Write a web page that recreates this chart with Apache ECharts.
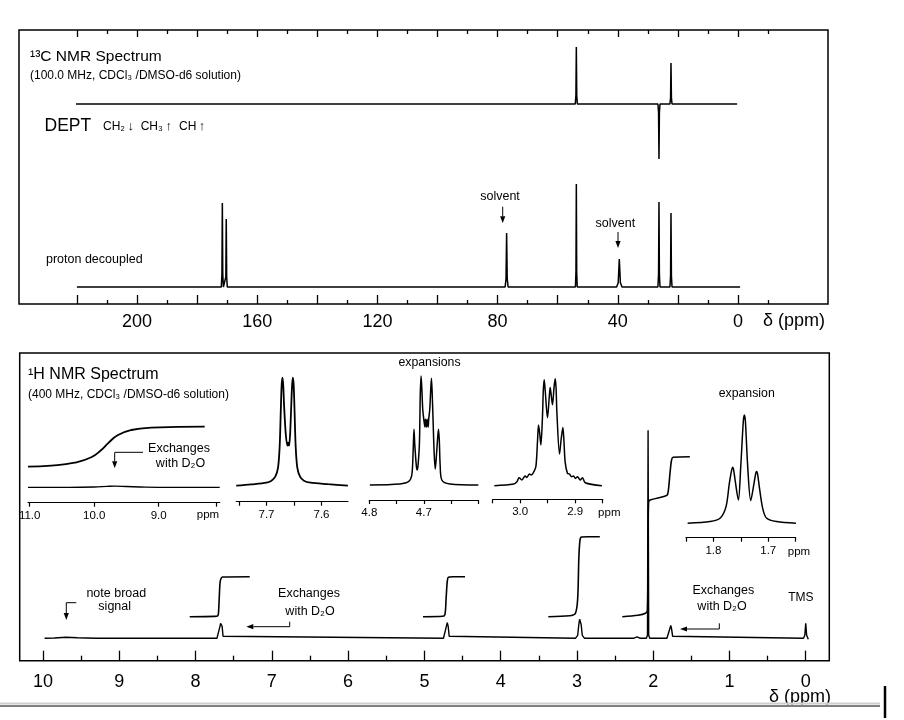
<!DOCTYPE html>
<html><head><meta charset="utf-8">
<script src="https://cdn.jsdelivr.net/npm/echarts@6/dist/echarts.min.js"></script>
<style>html,body{margin:0;padding:0;background:#fff}#c{width:904px;height:720px}</style>
</head><body><div id="c"></div>
<script>
// ---------------- 13C data ----------------
const c13MajorTicks = [0,20,40,60,80,100,120,140,160,180,200,220];
const c13MinorTicks = [-10,10,30,50,70,90,110,130,150,170,190,210];
const c13TickLabels = [200,160,120,80,40,0];
// [ppm, intensity, half-width(ppm)]
const deptPeaks = [[53.8,57,0.35],[26.3,-55,0.35],[22.3,41,0.35]];
const decoupledPeaks = [[171.6,84,0.35],[170.3,68,0.35],[77.0,54,0.5],[53.8,103,0.3],[39.5,28,0.9],[26.3,85,0.35],[22.3,74,0.35]];
const deptRange = [220.3, 0.3];
const decoupledRange = [220, -0.7];

// ---------------- 1H data ----------------
const h1MajorTicks = [0,1,2,3,4,5,6,7,8,9,10];
const h1MinorTicks = [0.5,1.5,2.5,3.5,4.5,5.5,6.5,7.5,8.5,9.5];
const h1Spectrum = [
  [9.98,0],[9.85,0.3],[9.7,1],[9.55,0.6],[9.3,0],
  [7.72,0],[7.695,2],[7.68,12],[7.672,15],[7.662,15],[7.652,12],[7.64,2],[7.615,0],
  [4.75,0],[4.725,2],[4.712,12],[4.70,15.6],[4.688,12],[4.675,2],[4.65,0],
  [3.02,0],[2.99,3],[2.975,14],[2.965,19],[2.955,19],[2.945,14],[2.93,3],[2.90,0],
  [2.26,0],[2.21,1.5],[2.17,0],
  [2.09,0],[2.075,3],[2.067,208],[2.059,3],[2.045,0],
  [1.82,0],[1.795,2],[1.78,10],[1.77,13],[1.76,10],[1.745,2],[1.72,0],
  [0.03,0],[0.012,3],[0.0,15],[-0.012,3],[-0.034,-1]
];
const h1Integral1 = [[8.077,21.6],[7.75,21.9],[7.71,22.5],[7.70,25],[7.69,40],[7.68,55],[7.67,59],[7.65,61.3],[7.29,61.6]];
const h1Integral2 = [[5.018,21.6],[4.76,22],[4.73,24],[4.715,40],[4.70,57],[4.685,61],[4.62,61.5],[4.467,61.6]];
const h1Integral3 = [[3.375,21.6],[3.1,22.5],[3.02,25],[2.99,40],[2.975,80],[2.96,98],[2.94,101.3],[2.85,101.6],[2.70,101.6]];
const h1Integral4 = [[2.405,21.6],[2.2,23],[2.1,25],[2.075,28],[2.067,100],[2.06,136],[2.04,138.3],[1.85,142],[1.81,144],[1.78,165],[1.76,178],[1.74,181],[1.52,181.6]];

// expansions
const inset1Ticks = [11,10,9,8.1];
const inset1Labels = [11,10,9];
const inset1Spectrum = [[11.026,0],[10.4,0],[10.0,0.3],[9.8,0.9],[9.68,1.2],[9.5,0.8],[9.2,0.2],[8.8,0],[8.054,0]];
const inset1Integral = [[11.026,20.6],[10.665,21.6],[10.302,24.6],[10.045,30],[9.89,37.3],[9.786,44],[9.631,52.3],[9.425,57.3],[9.115,59.6],[8.287,60.6]];

const inset2Ticks = [7.75,7.7,7.65,7.6];
const inset2Labels = [7.7,7.6];
const inset2Spectrum = [[7.755,0],[7.728,1.3],[7.70,3],[7.691,5],[7.684,9],[7.679,18],[7.676,40],[7.674,75],[7.6725,100],[7.671,108],[7.6695,100],[7.668,80],[7.665,52],[7.662,40],[7.6605,43],[7.659,40],[7.657,52],[7.655,80],[7.6535,100],[7.652,108],[7.6505,100],[7.649,75],[7.647,40],[7.644,18],[7.639,9],[7.632,5],[7.62,3],[7.588,1.5],[7.552,0]];

const inset3Ticks = [4.8,4.75,4.7,4.65,4.6];
const inset3Labels = [4.8,4.7];
const inset3Spectrum = [[4.799,0],[4.744,1],[4.728,3.3],[4.722,10],[4.7195,35],[4.718,55.7],[4.7165,40],[4.7135,18],[4.712,15],[4.7105,20],[4.708,42],[4.7065,90],[4.705,109],[4.7035,95],[4.702,76],[4.700,65.7],[4.698,58],[4.697,65.7],[4.695,58],[4.694,65.7],[4.692,58],[4.691,65.7],[4.689,76],[4.6875,93],[4.686,106.7],[4.6845,90],[4.683,65],[4.681,32],[4.679,16],[4.677,28],[4.6745,48],[4.673,55.7],[4.6715,44],[4.670,20],[4.667,5],[4.652,1],[4.600,0]];

const inset4Ticks = [3.05,3.0,2.95,2.9,2.85];
const inset4Labels = [3.0,2.9];
const inset4Spectrum = [[3.047,0],[3.012,1.7],[3.006,4],[3.002,8],[2.997,5.7],[2.991,9.7],[2.988,8.3],[2.983,11.7],[2.980,10.7],[2.976,13],[2.9715,19],[2.9685,45],[2.9667,60.7],[2.9645,52],[2.9624,40.7],[2.9595,69],[2.958,95],[2.9564,106],[2.9545,95],[2.9504,68],[2.947,90],[2.9455,98.3],[2.9435,90],[2.9413,81],[2.9385,98],[2.9364,107],[2.9348,98],[2.9333,73.3],[2.9285,31.7],[2.9255,46.7],[2.9224,58.3],[2.9205,45],[2.9182,23.3],[2.914,12.3],[2.9104,11.7],[2.9067,9],[2.9031,9.7],[2.8995,7.3],[2.8958,9],[2.8909,5.7],[2.8867,8],[2.8818,3],[2.8515,0]];

const inset5Ticks = [1.85,1.8,1.75,1.7,1.65];
const inset5Labels = [1.8,1.7];
const inset5Spectrum = [[1.847,0],[1.806,1.7],[1.788,5],[1.777,16.7],[1.771,40],[1.7665,54],[1.7647,56],[1.763,53],[1.7605,43.3],[1.7545,23.3],[1.7502,56.7],[1.7455,102],[1.7436,108.3],[1.7417,102],[1.7375,56.7],[1.732,22.7],[1.726,40],[1.7228,50],[1.7211,51.7],[1.7194,49],[1.7164,36.7],[1.7102,15],[1.7029,5],[1.6847,1.7],[1.6496,0]];

// ---------------- helpers ----------------
const FONT = '"Liberation Sans", Arial, Helvetica, sans-serif';
function peaksToLine(range, peaks) {
  const pts = [[range[0], 0]];
  peaks.slice().sort((a,b)=>b[0]-a[0]).forEach(([p,h,w]) => {
    pts.push([p+w,0],[p+w*0.4,h*0.15],[p,h],[p-w*0.4,h*0.15],[p-w,0]);
  });
  pts.push([range[1],0]);
  return pts;
}
function hx(grid, min, max, extra) {
  return Object.assign({type:'value', gridIndex:grid, min, max, inverse:true, show:false, splitLine:{show:false}}, extra||{});
}
function hy(grid, min, max) {
  return {type:'value', gridIndex:grid, min, max, show:false, splitLine:{show:false}};
}
function tickAxis(grid, min, max, position, ticks, len, labels, labelOpt, extra) {
  return Object.assign({
    type:'value', gridIndex:grid, min, max, inverse:true, position,
    splitLine:{show:false},
    axisLine:{show:false},
    axisTick:{show:true, inside:true, length:len, customValues:ticks, lineStyle:{color:'#000', width:1.3}},
    axisLabel: labels ? Object.assign({show:true, customValues:labels, color:'#000', fontFamily:FONT}, labelOpt) : {show:false},
  }, extra||{});
}
function insetAxis(grid, min, max, offset, ticks, labels) {
  return {
    type:'value', gridIndex:grid, min, max, inverse:true, position:'bottom', offset,
    splitLine:{show:false},
    axisLine:{show:true, onZero:false, lineStyle:{color:'#000', width:1.2}},
    axisTick:{show:true, inside:false, length:4, customValues:ticks, lineStyle:{color:'#000', width:1.2}},
    axisLabel:{show:true, customValues:labels, color:'#000', fontFamily:FONT, fontSize:11.5, margin:7,
      formatter: v => v.toFixed(1)}
  };
}
function line(xi, yi, data, width, smooth) {
  return {type:'line', xAxisIndex:xi, yAxisIndex:yi, data, symbol:'none', showSymbol:false,
    smooth: smooth||false, clip:false, silent:true,
    lineStyle:{color:'#000', width:width||1.4}};
}
function txt(x, y, s, size, align, extra) {
  return {type:'text', x, y, silent:true, z:50, style:Object.assign({text:s, fontFamily:FONT, fontSize:size,
    fill:'#000', align:align||'left', verticalAlign:'middle'}, extra||{})};
}
function arrow(pts) {
  const n = pts.length, [x1,y1] = pts[n-2], [x2,y2] = pts[n-1];
  const d = Math.hypot(x2-x1,y2-y1), ux=(x2-x1)/d, uy=(y2-y1)/d, L=7, Wd=2.6;
  const bx = x2-ux*L, by = y2-uy*L;
  const shaft = pts.slice(0,n-1).concat([[bx,by]]);
  return [
    {type:'polyline', silent:true, z:50, shape:{points:shaft}, style:{stroke:'#000', lineWidth:1, fill:null}},
    {type:'polygon', silent:true, z:50, shape:{points:[[x2,y2],[bx-uy*Wd,by+ux*Wd],[bx+uy*Wd,by-ux*Wd]]}, style:{fill:'#000'}}
  ];
}

// ---------------- layout ----------------
const C_MIN = -29.95, C_MAX = 239.27;
const H_MIN = -0.309, H_MAX = 10.306;
const grids = [
  {left:19, top:30, width:809, height:274, show:true, borderColor:'#000', borderWidth:1.5, backgroundColor:'transparent'}, // 0 13C frame
  {left:19, top:44, width:809, height:120},   // 1 DEPT
  {left:19, top:177, width:809, height:110},  // 2 decoupled
  {left:19.7, top:353, width:809.6, height:307.7, show:true, borderColor:'#000', borderWidth:1.5, backgroundColor:'transparent'}, // 3 1H frame
  {left:19.7, top:388.3, width:809.6, height:250}, // 4 1H spectrum
  {left:28, top:357.3, width:191.7, height:130},   // 5 inset1
  {left:236.3, top:355.7, width:111.7, height:130},// 6 inset2
  {left:369.3, top:355, width:109, height:130},    // 7 inset3
  {left:492.7, top:355.7, width:110, height:130},  // 8 inset4
  {left:686, top:393.3, width:109.7, height:130}   // 9 inset5
];
const xAxes = [
  tickAxis(0, C_MIN, C_MAX, 'bottom', c13MajorTicks, 9, c13TickLabels, {fontSize:18, margin:9}), //0
  tickAxis(0, C_MIN, C_MAX, 'bottom', c13MinorTicks, 4, null),   //1
  tickAxis(0, C_MIN, C_MAX, 'top', c13MajorTicks, 7, null),      //2
  tickAxis(0, C_MIN, C_MAX, 'top', c13MinorTicks, 4, null),      //3
  hx(1, C_MIN, C_MAX), //4
  hx(2, C_MIN, C_MAX), //5
  tickAxis(3, H_MIN, H_MAX, 'bottom', h1MajorTicks, 10, h1MajorTicks, {fontSize:18, margin:12}), //6
  tickAxis(3, H_MIN, H_MAX, 'bottom', h1MinorTicks, 5, null), //7
  hx(4, H_MIN, H_MAX), //8
  insetAxis(5, 8.054, 11.026, 15.4, inset1Ticks, inset1Labels), //9
  insetAxis(6, 7.5518, 7.7549, 16, inset2Ticks, inset2Labels), //10
  insetAxis(7, 4.60, 4.80, 15, inset3Ticks, inset3Labels), //11
  insetAxis(8, 2.85, 3.05, 13.6, inset4Ticks, inset4Labels), //12
  insetAxis(9, 1.65, 1.85, 14.4, inset5Ticks, inset5Labels)  //13
];
const yAxes = [
  hy(0,0,1), hy(1,-60,60), hy(2,0,110), hy(3,0,1), hy(4,0,250),
  hy(5,0,130), hy(6,0,130), hy(7,0,130), hy(8,0,130), hy(9,0,130)
];
const series = [
  line(4,1,peaksToLine(deptRange, deptPeaks),1.5),
  line(5,2,peaksToLine(decoupledRange, decoupledPeaks),1.5),
  line(8,4,h1Spectrum,1.4),
  line(8,4,h1Integral1,1.6,0.3),
  line(8,4,h1Integral2,1.6,0.3),
  line(8,4,h1Integral3,1.6,0.3),
  line(8,4,h1Integral4,1.6,0.3),
  line(9,5,inset1Spectrum,1.3,0.4),
  line(9,5,inset1Integral,1.8,0.5),
  line(10,6,inset2Spectrum,1.8,0.3),
  line(11,7,inset3Spectrum,1.5,0.3),
  line(12,8,inset4Spectrum,1.5,0.3),
  line(13,9,inset5Spectrum,1.5,0.3)
];

const graphics = [].concat(
  [
    txt(30, 57, '¹³C NMR Spectrum', 15.5),
    txt(30, 75.5, '(100.0 MHz, CDCl₃ /DMSO-d6 solution)', 12),
    txt(44.5, 126.5, 'DEPT', 17.5),
    txt(103, 126.5, 'CH₂', 12), txt(130.7, 126.5, '↓', 13, 'center', {fontWeight:'bold'}),
    txt(140.7, 126.5, 'CH₃', 12), txt(168.7, 126.5, '↑', 13, 'center', {fontWeight:'bold'}),
    txt(179, 126.5, 'CH', 12), txt(202, 126.5, '↑', 13, 'center', {fontWeight:'bold'}),
    txt(46, 260, 'proton decoupled', 12.5),
    txt(500, 196.7, 'solvent', 12.5, 'center'),
    txt(615.3, 223.3, 'solvent', 12.5, 'center'),
    txt(763, 321.5, 'δ (ppm)', 18),
    txt(28, 375, '¹H NMR Spectrum', 16),
    txt(28, 395, '(400 MHz, CDCl₃ /DMSO-d6 solution)', 12),
    txt(179, 449, 'Exchanges', 12.5, 'center'),
    txt(180.5, 464, 'with D₂O', 12.5, 'center'),
    txt(208, 515, 'ppm', 11.5, 'center'),
    txt(429.5, 362.7, 'expansions', 12.3, 'center'),
    txt(609.3, 513.3, 'ppm', 11.5, 'center'),
    txt(746.7, 393.3, 'expansion', 12.3, 'center'),
    txt(799, 551.7, 'ppm', 11.5, 'center'),
    txt(116.3, 593.3, 'note broad', 12.5, 'center'),
    txt(114.7, 606.5, 'signal', 12.5, 'center'),
    txt(309, 594, 'Exchanges', 12.5, 'center'),
    txt(310, 611.7, 'with D₂O', 12.5, 'center'),
    txt(723.3, 591, 'Exchanges', 12.5, 'center'),
    txt(722, 606.7, 'with D₂O', 12.5, 'center'),
    txt(800.8, 597.3, 'TMS', 12, 'center'),
    txt(800, 697.5, 'δ (ppm)', 18, 'center')
  ],
  arrow([[502.7,206.7],[502.7,223.3]]),
  arrow([[618,232],[618,248]]),
  arrow([[143,452.3],[114.7,452.3],[114.7,468.3]]),
  arrow([[76.3,602.7],[66.3,602.7],[66.3,620]]),
  arrow([[289.7,621.7],[289.7,626.7],[246.3,626.7]]),
  arrow([[719.3,623.3],[719.3,629],[680,629]]),
  [
    {type:'rect', silent:true, z:60, shape:{x:0,y:704.5,width:882,height:16}, style:{fill:'#fff'}},
    {type:'line', silent:true, z:61, shape:{x1:0,y1:703.5,x2:880,y2:703.5}, style:{stroke:'#cfcfcf', lineWidth:2}},
    {type:'line', silent:true, z:61, shape:{x1:0,y1:706,x2:880,y2:706}, style:{stroke:'#555', lineWidth:1.3}},
    {type:'line', silent:true, z:61, shape:{x1:885,y1:686,x2:885,y2:718}, style:{stroke:'#000', lineWidth:2.5}}
  ]
);

const chart = echarts.init(document.getElementById('c'), null, {renderer:'canvas'});
chart.setOption({
  animation:false,
  backgroundColor:'#fff',
  grid:grids, xAxis:xAxes, yAxis:yAxes, series,
  graphic:graphics
});
</script></body></html>
